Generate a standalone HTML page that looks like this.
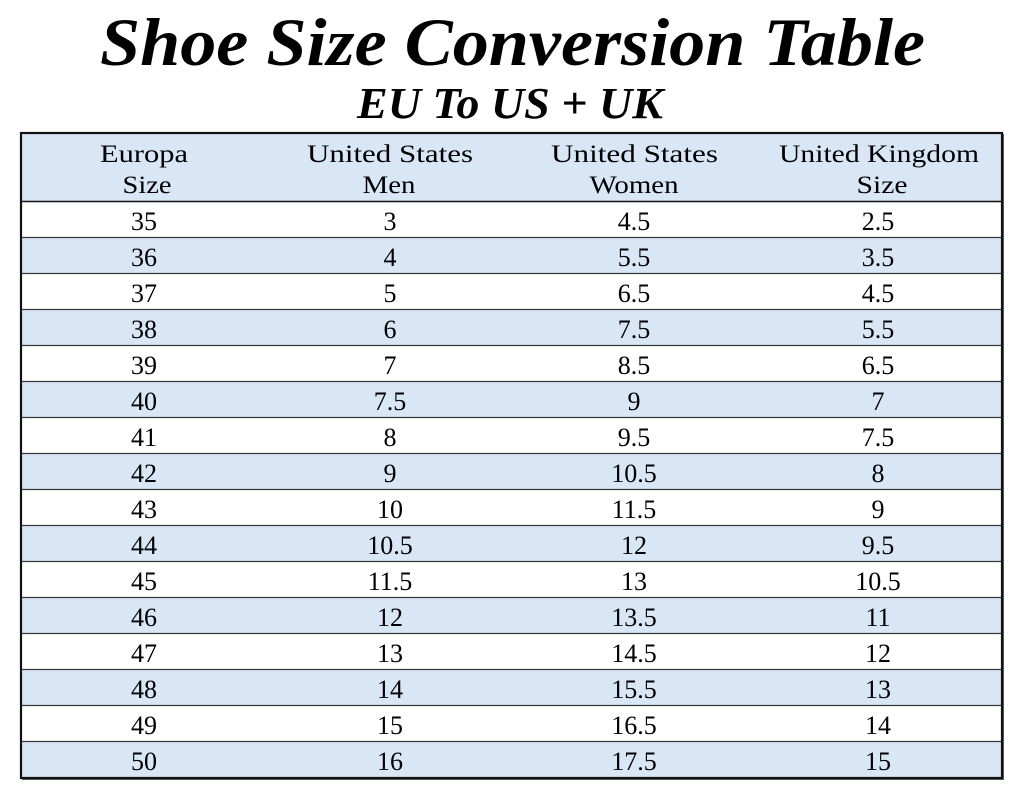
<!DOCTYPE html>
<html>
<head>
<meta charset="utf-8">
<style>
  html,body{margin:0;padding:0;background:#ffffff;}
  svg{display:block;}
  text{font-family:"Liberation Serif",serif;fill:#000;}
  .t{font-weight:bold;font-style:italic;}
  .h{font-size:25px;}
  .d{font-size:26px;}
</style>
</head>
<body>
<svg width="1024" height="791" viewBox="0 0 1024 791" xmlns="http://www.w3.org/2000/svg">
  <rect x="0" y="0" width="1024" height="791" fill="#ffffff"/>
  <!-- Title -->
  <text class="t" x="100" y="65" font-size="68" textLength="825" lengthAdjust="spacingAndGlyphs">Shoe Size Conversion Table</text>
  <text class="t" x="357" y="118" font-size="44" textLength="306" lengthAdjust="spacingAndGlyphs">EU To US + UK</text>

  <!-- Header background -->
  <rect x="21" y="133" width="981" height="69" fill="#d9e6f5"/>
  <!-- Row backgrounds (blue rows) -->
  <g fill="#d9e6f5">
    <rect x="21" y="237.5" width="981" height="36"/>
    <rect x="21" y="309.5" width="981" height="36"/>
    <rect x="21" y="381.5" width="981" height="36"/>
    <rect x="21" y="453.5" width="981" height="36"/>
    <rect x="21" y="525.5" width="981" height="36"/>
    <rect x="21" y="597.5" width="981" height="36"/>
    <rect x="21" y="669.5" width="981" height="36"/>
    <rect x="21" y="741.5" width="981" height="36"/>
  </g>
  <!-- Row lines -->
  <g stroke="#3a3a3a" stroke-width="1.3">
    <line x1="21" y1="201.5" x2="1002" y2="201.5" stroke="#111" stroke-width="1.6"/>
    <line x1="21" y1="237.5" x2="1002" y2="237.5"/>
    <line x1="21" y1="273.5" x2="1002" y2="273.5"/>
    <line x1="21" y1="309.5" x2="1002" y2="309.5"/>
    <line x1="21" y1="345.5" x2="1002" y2="345.5"/>
    <line x1="21" y1="381.5" x2="1002" y2="381.5"/>
    <line x1="21" y1="417.5" x2="1002" y2="417.5"/>
    <line x1="21" y1="453.5" x2="1002" y2="453.5"/>
    <line x1="21" y1="489.5" x2="1002" y2="489.5"/>
    <line x1="21" y1="525.5" x2="1002" y2="525.5"/>
    <line x1="21" y1="561.5" x2="1002" y2="561.5"/>
    <line x1="21" y1="597.5" x2="1002" y2="597.5"/>
    <line x1="21" y1="633.5" x2="1002" y2="633.5"/>
    <line x1="21" y1="669.5" x2="1002" y2="669.5"/>
    <line x1="21" y1="705.5" x2="1002" y2="705.5"/>
    <line x1="21" y1="741.5" x2="1002" y2="741.5"/>
  </g>
  <!-- Outer border -->
  <rect x="21" y="133" width="981" height="645" fill="none" stroke="#111" stroke-width="2.2"/>
  <line x1="1003.5" y1="134" x2="1003.5" y2="779" stroke="#555" stroke-width="1"/>
  <line x1="22" y1="779.5" x2="1004" y2="779.5" stroke="#555" stroke-width="1"/>

  <!-- Header text -->
  <g class="h" text-anchor="middle">
    <text x="144" y="162" textLength="88" lengthAdjust="spacingAndGlyphs">Europa</text>
    <text x="147" y="193" textLength="49" lengthAdjust="spacingAndGlyphs">Size</text>
    <text x="390" y="162" textLength="166" lengthAdjust="spacingAndGlyphs">United States</text>
    <text x="389" y="193" textLength="53" lengthAdjust="spacingAndGlyphs">Men</text>
    <text x="634.5" y="162" textLength="167" lengthAdjust="spacingAndGlyphs">United States</text>
    <text x="634" y="193" textLength="89" lengthAdjust="spacingAndGlyphs">Women</text>
    <text x="879" y="162" textLength="200" lengthAdjust="spacingAndGlyphs">United Kingdom</text>
    <text x="882" y="193" textLength="51" lengthAdjust="spacingAndGlyphs">Size</text>
  </g>

  <!-- Data -->
  <g class="d" text-anchor="middle">
    <text x="144" y="230">35</text><text x="390" y="230">3</text><text x="634" y="230">4.5</text><text x="878" y="230">2.5</text>
    <text x="144" y="266">36</text><text x="390" y="266">4</text><text x="634" y="266">5.5</text><text x="878" y="266">3.5</text>
    <text x="144" y="302">37</text><text x="390" y="302">5</text><text x="634" y="302">6.5</text><text x="878" y="302">4.5</text>
    <text x="144" y="338">38</text><text x="390" y="338">6</text><text x="634" y="338">7.5</text><text x="878" y="338">5.5</text>
    <text x="144" y="374">39</text><text x="390" y="374">7</text><text x="634" y="374">8.5</text><text x="878" y="374">6.5</text>
    <text x="144" y="410">40</text><text x="390" y="410">7.5</text><text x="634" y="410">9</text><text x="878" y="410">7</text>
    <text x="144" y="446">41</text><text x="390" y="446">8</text><text x="634" y="446">9.5</text><text x="878" y="446">7.5</text>
    <text x="144" y="482">42</text><text x="390" y="482">9</text><text x="634" y="482">10.5</text><text x="878" y="482">8</text>
    <text x="144" y="518">43</text><text x="390" y="518">10</text><text x="634" y="518">11.5</text><text x="878" y="518">9</text>
    <text x="144" y="554">44</text><text x="390" y="554">10.5</text><text x="634" y="554">12</text><text x="878" y="554">9.5</text>
    <text x="144" y="590">45</text><text x="390" y="590">11.5</text><text x="634" y="590">13</text><text x="878" y="590">10.5</text>
    <text x="144" y="626">46</text><text x="390" y="626">12</text><text x="634" y="626">13.5</text><text x="878" y="626">11</text>
    <text x="144" y="662">47</text><text x="390" y="662">13</text><text x="634" y="662">14.5</text><text x="878" y="662">12</text>
    <text x="144" y="698">48</text><text x="390" y="698">14</text><text x="634" y="698">15.5</text><text x="878" y="698">13</text>
    <text x="144" y="734">49</text><text x="390" y="734">15</text><text x="634" y="734">16.5</text><text x="878" y="734">14</text>
    <text x="144" y="770">50</text><text x="390" y="770">16</text><text x="634" y="770">17.5</text><text x="878" y="770">15</text>
  </g>
</svg>
</body>
</html>
